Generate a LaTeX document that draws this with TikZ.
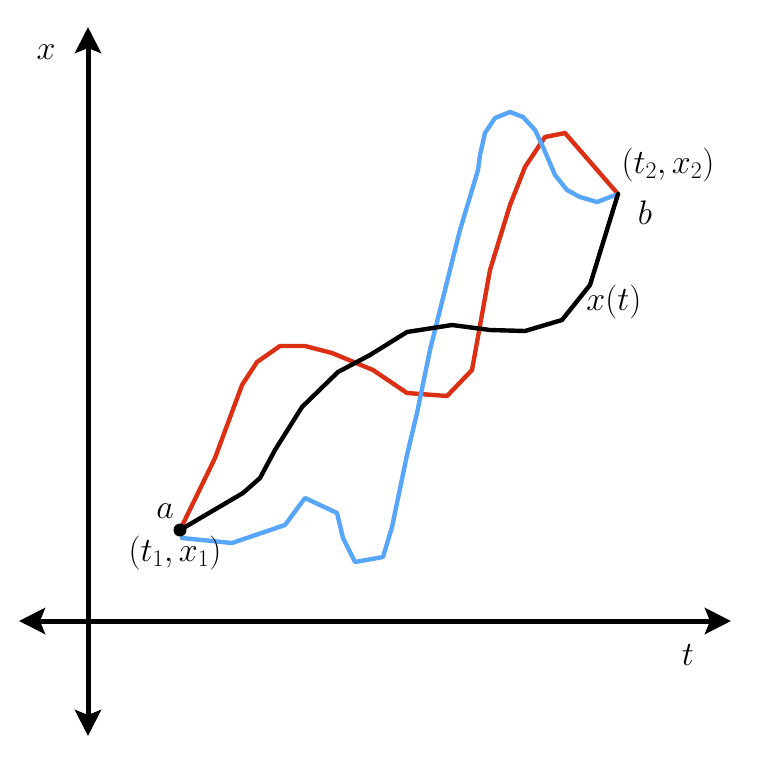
\RequirePackage{fix-cm}
\documentclass[tikz,border=0pt]{standalone}
\usetikzlibrary{arrows.meta}
\definecolor{pathred}{RGB}{220,48,20}
\definecolor{pathblue}{RGB}{88,166,250}
\begin{document}
\begin{tikzpicture}[x=1pt,y=-1pt,
  axis/.style={line width=5pt,{Stealth[length=26pt,width=26pt,inset=5pt]}-{Stealth[length=26pt,width=26pt,inset=5pt]}},
  pathline/.style={line width=4.4pt,line join=round,line cap=round},
  lab/.style={font=\fontsize{34}{40}\selectfont,inner sep=0pt}]
\useasboundingbox (0,0) rectangle (768,756);
% axes
\coordinate (xtop) at (88,27);
\coordinate (xbot) at (88,736);
\coordinate (tleft) at (19,621);
\coordinate (tright) at (731,621);
\draw[axis] (xbot) -- (xtop);
\draw[axis] (tleft) -- (tright);
% end points
\coordinate (a) at (180,530);
\coordinate (b) at (618,194);
% red path
\draw[pathline,pathred] (a) -- (215,458) -- (242,385) -- (257,362) -- (280,346) -- (305,346) -- (332,353) -- (373,370) -- (407,393) -- (447,396) -- (472,370) -- (490,270) -- (510,205) -- (525,167) -- (545,137) -- (565,133) -- (b);
% blue path
\draw[pathline,pathblue] (a) ++(2,8) -- (232,543) -- (285,525) -- (305,498) -- (337,513) -- (343,538) -- (355,562) -- (383,557) -- (392,527) -- (407,455) -- (417,413) -- (430,350) -- (445,290) -- (460,230) -- (478,170) -- (480,155) -- (485,133) -- (495,118) -- (510,112) -- (523,117) -- (535,130) -- (543,147) -- (555,175) -- (567,190) -- (580,197) -- (597,202) -- (b);
% black path
\draw[pathline,black] (a) -- (243,493) -- (260,478) -- (275,450) -- (302,407) -- (338,372) -- (370,355) -- (407,332) -- (452,325) -- (490,330) -- (525,331) -- (562,320) -- (590,285) -- (b);
\fill (a) circle (6.5pt);
% labels
\node[lab] (xlab) at (46,52) {$x$};
\node[lab] (tlab) at (688,655) {$t$};
\node[lab] (alab) at (165,511) {$a$};
\node[lab] (blab) at (645,213) {$b$};
\node[lab] (xtlab) at (614,302) {$x(t)$};
\node[lab] (p1) at (175,553) {$(t_1, x_1)$};
\node[lab] (p2) at (668,165) {$(t_2, x_2)$};
\end{tikzpicture}
\end{document}
